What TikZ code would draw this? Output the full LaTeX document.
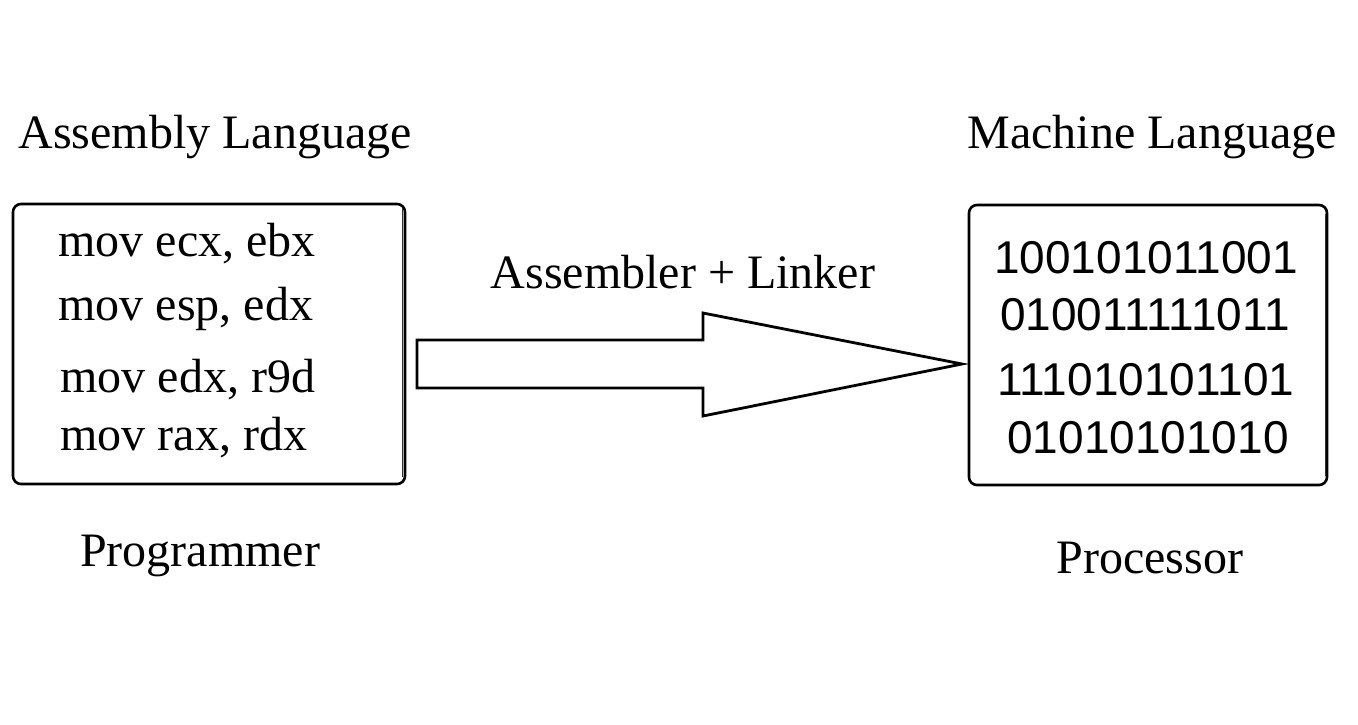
\documentclass[tikz,border=0pt]{standalone}
\usepackage{fontspec}
\setmainfont{Liberation Serif}
\newfontfamily\binfont{Liberation Sans}
\usetikzlibrary{calc}
\begin{document}
\begin{tikzpicture}[x=0.5pt,y=-0.5pt,
  lbl/.style={anchor=base,font=\fontsize{24}{28}\selectfont,inner sep=0},
  code/.style={anchor=base west,font=\fontsize{24}{28}\selectfont,inner sep=0},
  bits/.style={anchor=base,font=\binfont\fontsize{23}{27}\selectfont,inner sep=0},
  panel/.style={draw,line width=1.3pt,rounded corners=4pt,inner sep=0},
  edgeline/.style={draw,line width=0.6pt,black!80},
  bigarrow/.style={draw,line width=1.4pt,line join=miter}]
\useasboundingbox (0,0) rectangle (1358,724);
% boxes
\node[panel,minimum width=196pt,minimum height=140pt] (asm) at (209,344) {};
\node[panel,minimum width=179pt,minimum height=140pt] (mach) at (1148,345) {};
\draw[edgeline] ($(asm.north east)+(-4,5)$) -- ($(asm.south east)+(-4,-8)$);
\draw[edgeline] ($(mach.north east)+(-3,10)$) -- ($(mach.south east)+(-3,-10)$);
% titles
\node[lbl] (asmtitle) at (215,148) {Assembly Language};
\node[lbl] (machtitle) at (1152,148) {Machine Language};
\node[lbl] (prog) at (200,566) {Programmer};
\node[lbl] (proc) at (1150,573) {Processor};
\node[lbl] (tool) at (683,288) {Assembler + Linker};
% code
\node[code] (c1) at (58,256) {mov ecx, ebx};
\node[code] (c2) at (58,320) {mov esp, edx};
\node[code] (c3) at (60,392) {mov edx, r9d};
\node[code] (c4) at (60,450) {mov rax, rdx};
% bits
\node[bits] (b1) at (1146,273) {100101011001};
\node[bits] (b2) at (1145,330) {010011111011};
\node[bits] (b3) at (1146,395) {111010101101};
\node[bits] (b4) at (1148,453) {01010101010};
% arrow
\coordinate (tail) at (417,364);
\coordinate (tip) at (962,364);
\draw[bigarrow] ($(tail)+(0,-24)$) -- (703,340) -- (703,313) -- (tip)
  -- (703,416) -- (703,388) -- ($(tail)+(0,24)$) -- cycle;
\end{tikzpicture}
\end{document}
